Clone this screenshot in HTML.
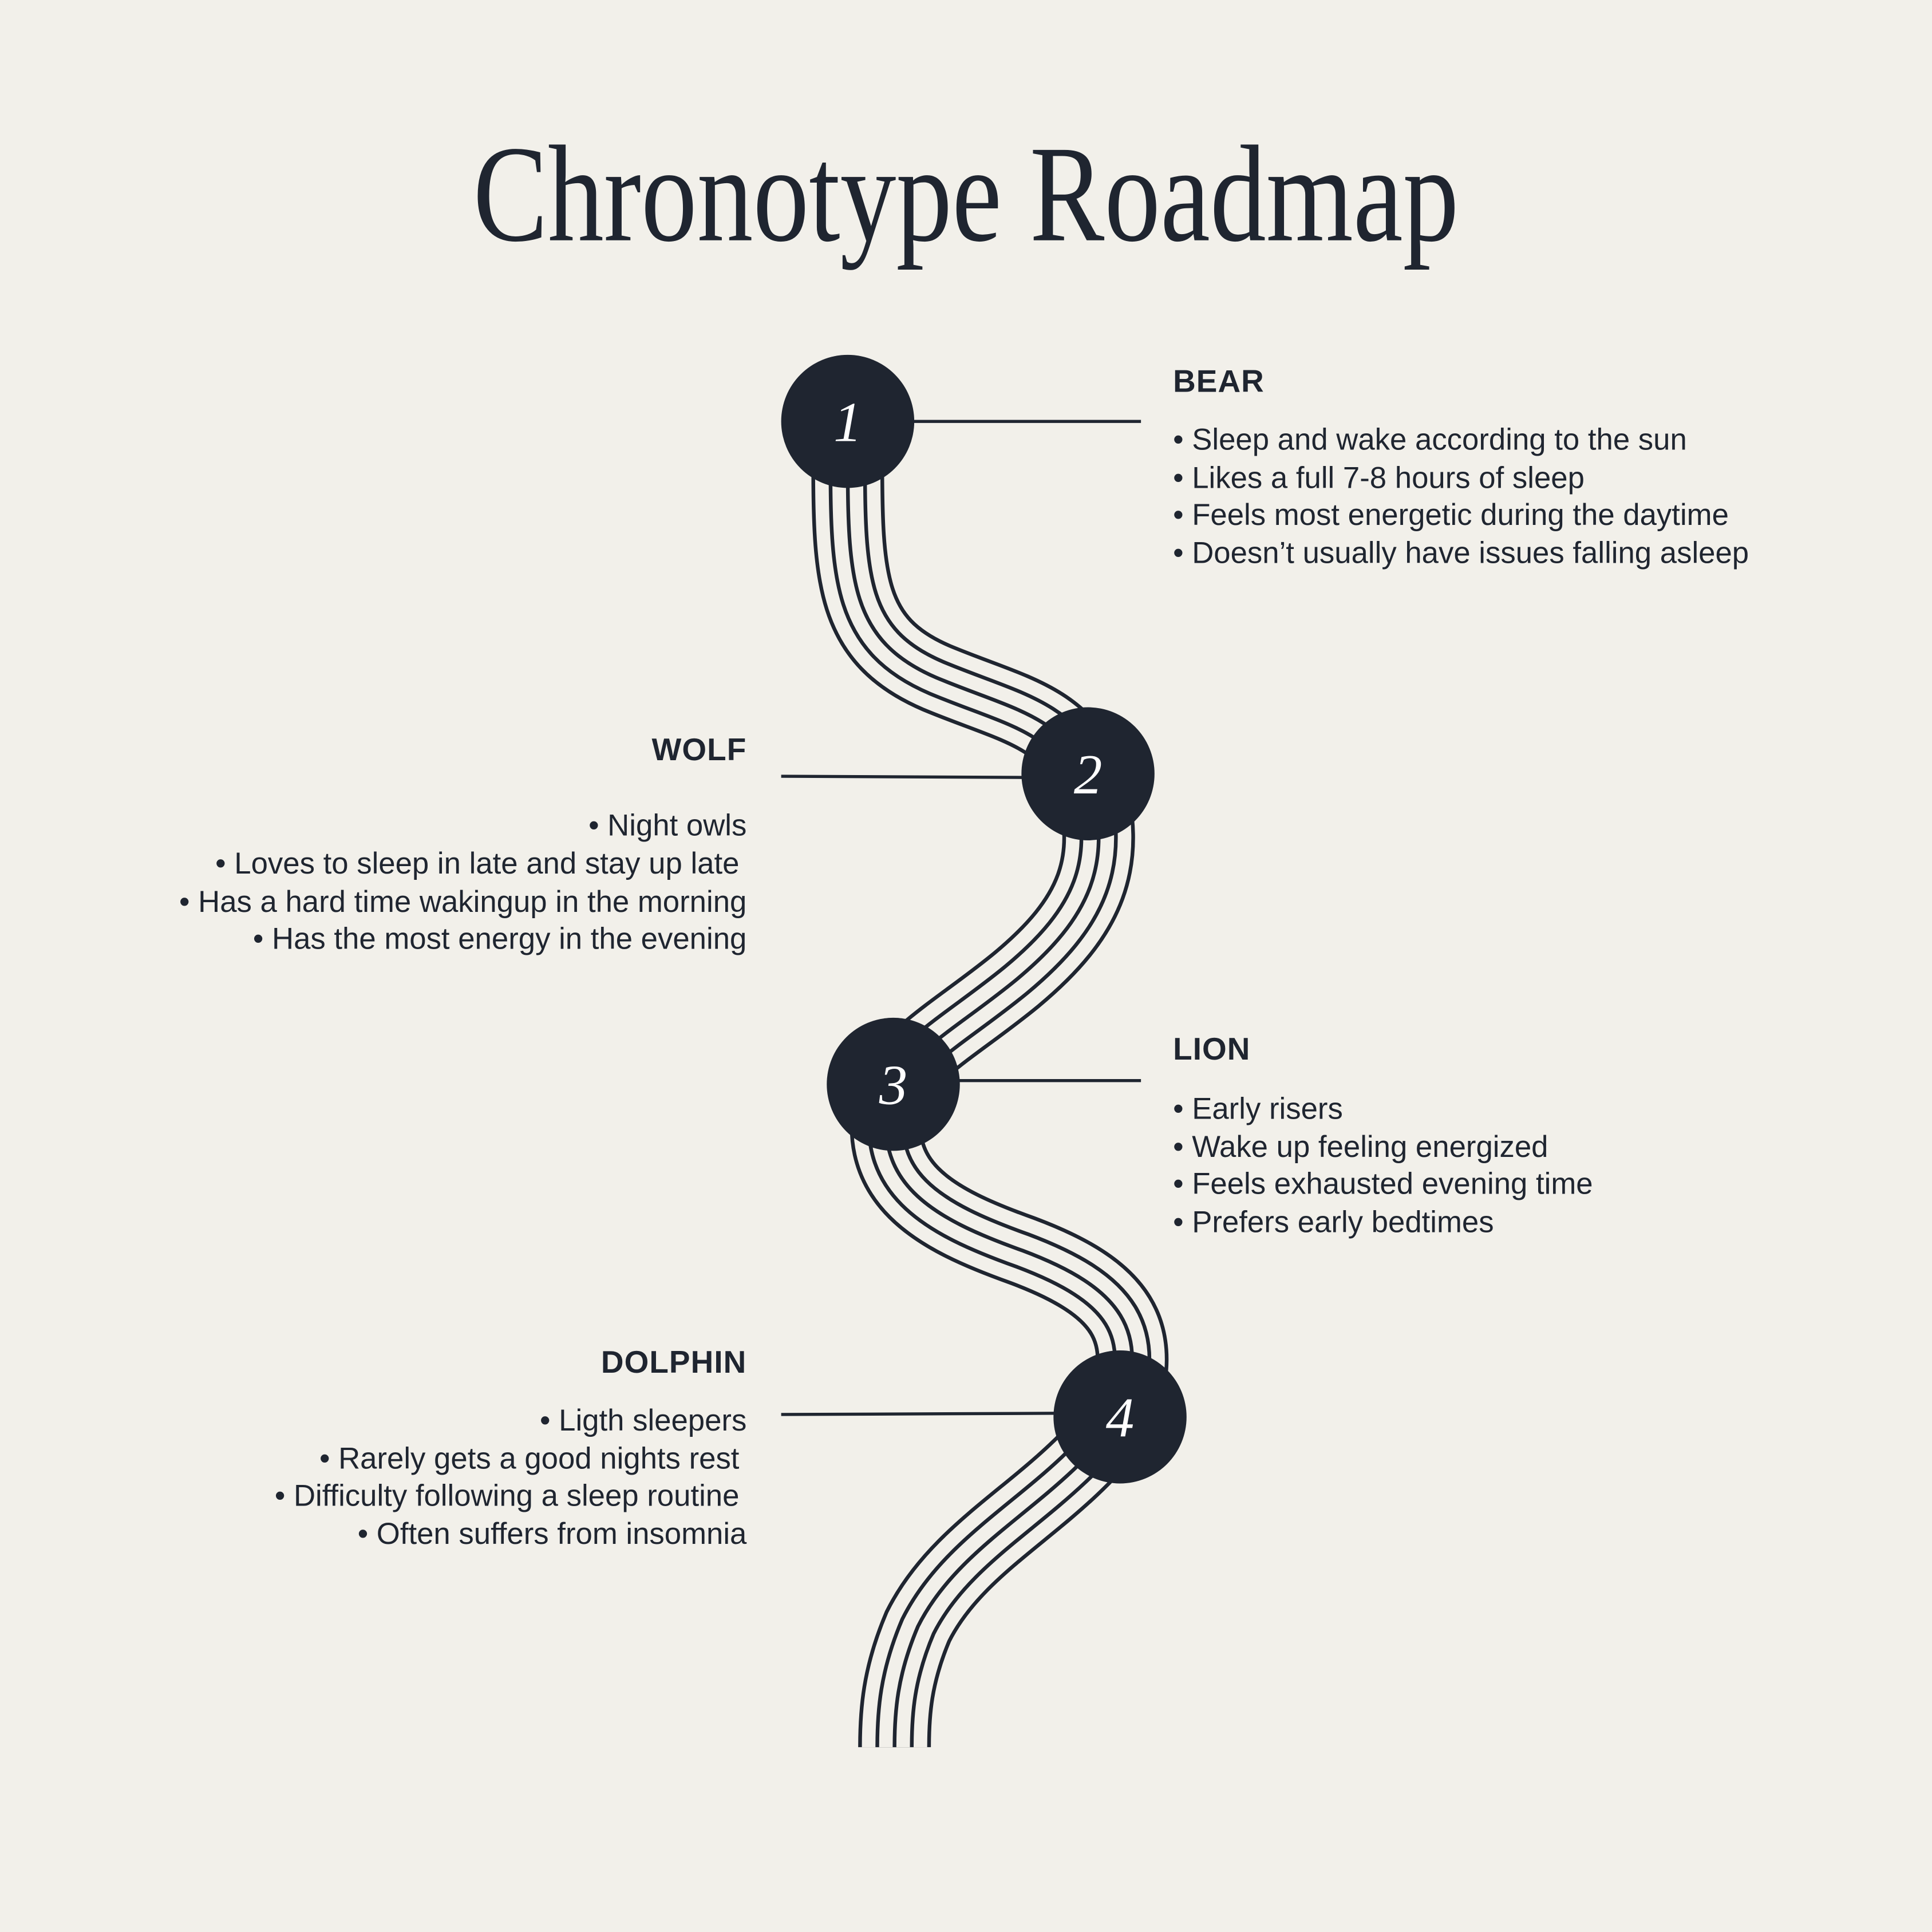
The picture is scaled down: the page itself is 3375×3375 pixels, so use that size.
<!DOCTYPE html>
<html><head><meta charset="utf-8"><style>
html,body{margin:0;padding:0;background:#f2f0ea;}
svg{display:block;}
.h{font-family:"Liberation Sans",sans-serif;font-size:25.5px;font-weight:bold;fill:#1f2530;letter-spacing:0.5px;}
.b{font-family:"Liberation Sans",sans-serif;font-size:24.5px;fill:#1f2530;}
.n{font-family:"Liberation Serif",serif;font-style:italic;font-size:46px;fill:#ffffff;}
</style></head><body>
<svg width="3375" height="3375" viewBox="0 0 1568 1568" xmlns="http://www.w3.org/2000/svg">
<defs>
<path id="c" d="M688,370 C688,470 690,520 760,550 C820,575 860,580 883,628 M883,628 C905,700 885,745 825,795 C785,828 745,850 725,880 M725,880 C700,960 760,990 830,1015 C910,1045 935,1080 909,1150 M909,1150 C860,1220 780,1250 745,1320 C728,1360 726,1390 726,1418" fill="none"/>
</defs>
<rect width="1568" height="1568" fill="#f2f0ea"/>
<text x="784" y="195" text-anchor="middle" font-family="Liberation Serif,serif" font-size="112" fill="#1f2530" textLength="800" lengthAdjust="spacingAndGlyphs">Chronotype Roadmap</text>
<use href="#c" stroke="#1f2530" stroke-width="59"/>
<use href="#c" stroke="#f2f0ea" stroke-width="53"/>
<use href="#c" stroke="#1f2530" stroke-width="31"/>
<use href="#c" stroke="#f2f0ea" stroke-width="25"/>
<use href="#c" stroke="#1f2530" stroke-width="3"/>
<g stroke="#1f2530" stroke-width="2.5">
<line x1="740" y1="342" x2="926" y2="342"/>
<line x1="634" y1="630" x2="832" y2="631"/>
<line x1="776" y1="877" x2="926" y2="877"/>
<line x1="634" y1="1148" x2="858" y2="1147"/>
</g>
<g fill="#1f2530">
<circle cx="688" cy="342" r="54"/>
<circle cx="883" cy="628" r="54"/>
<circle cx="725" cy="880" r="54"/>
<circle cx="909" cy="1150" r="54"/>
</g>
<text class="n" x="688" y="358" text-anchor="middle">1</text>
<text class="n" x="883" y="644" text-anchor="middle">2</text>
<text class="n" x="725" y="896" text-anchor="middle">3</text>
<text class="n" x="909" y="1166" text-anchor="middle">4</text>

<text class="h" x="952" y="318">BEAR</text>
<text class="b" x="952" y="365">• Sleep and wake according to the sun</text>
<text class="b" x="952" y="396">• Likes a full 7-8 hours of sleep</text>
<text class="b" x="952" y="426">• Feels most energetic during the daytime</text>
<text class="b" x="952" y="457">• Doesn’t usually have issues falling asleep</text>

<g text-anchor="end">
<text class="h" x="606" y="617">WOLF</text>
<text class="b" x="606" y="678">• Night owls</text>
<text class="b" x="600" y="709">• Loves to sleep in late and stay up late</text>
<text class="b" x="606" y="740">• Has a hard time wakingup in the morning</text>
<text class="b" x="606" y="770">• Has the most energy in the evening</text>
</g>

<text class="h" x="952" y="860">LION</text>
<text class="b" x="952" y="908">• Early risers</text>
<text class="b" x="952" y="939">• Wake up feeling energized</text>
<text class="b" x="952" y="969">• Feels exhausted evening time</text>
<text class="b" x="952" y="1000">• Prefers early bedtimes</text>

<g text-anchor="end">
<text class="h" x="606" y="1114">DOLPHIN</text>
<text class="b" x="606" y="1161">• Ligth sleepers</text>
<text class="b" x="600" y="1192">• Rarely gets a good nights rest</text>
<text class="b" x="600" y="1222">• Difficulty following a sleep routine</text>
<text class="b" x="606" y="1253">• Often suffers from insomnia</text>
</g>
</svg>
</body></html>
